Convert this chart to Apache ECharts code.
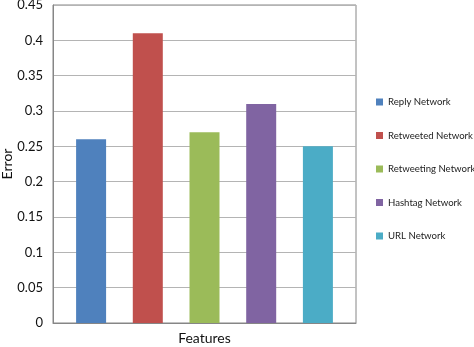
<!DOCTYPE html>
<html>
<head>
<meta charset="utf-8">
<script src="https://cdn.jsdelivr.net/npm/echarts@6/dist/echarts.min.js"></script>
<style>
html,body{margin:0;padding:0;background:#fff;}
#chart{width:474px;height:347px;}
</style>
</head>
<body>
<div id="chart"></div>
<script>
const seriesNames = ['Reply Network', 'Retweeted Network', 'Retweeting Network', 'Hashtag Network', 'URL Network'];
const seriesValues = [0.26, 0.41, 0.27, 0.31, 0.25];
const seriesColors = ['#4F81BD', '#C0504D', '#9BBB59', '#8064A2', '#4BACC6'];
const yTicks = [0, 0.05, 0.1, 0.15, 0.2, 0.25, 0.3, 0.35, 0.4, 0.45];
const categories = [''];

const chart = echarts.init(document.getElementById('chart'), null, {renderer: 'canvas'});
const series = seriesNames.map((name, i) => ({
  name: name,
  type: 'bar',
  data: [seriesValues[i]],
  barWidth: 30,
  barGap: '89%',
  itemStyle: {color: seriesColors[i]}
}));
chart.setOption({
  animation: false,
  backgroundColor: '#fff',
  grid: {left: 53, right: 118, top: 5, bottom: 24, show: true, borderColor: '#868686', borderWidth: 1,
    containLabel: false, outerBoundsMode: 'none'},
  legend: {
    orient: 'vertical',
    left: 371,
    top: 90,
    icon: 'rect',
    itemWidth: 7,
    itemHeight: 7,
    itemGap: 19.5,
    data: seriesNames,
    textStyle: {fontFamily: 'Lato', fontSize: 9.6, color: '#222', lineHeight: 14}
  },
  xAxis: {
    type: 'category',
    data: categories,
    name: 'Features',
    nameLocation: 'middle',
    nameGap: 8,
    nameMoveOverlap: false,
    nameTextStyle: {fontFamily: 'Lato', fontSize: 14, color: '#111', verticalAlign: 'top'},
    axisLine: {show: true, lineStyle: {color: '#868686'}},
    axisTick: {show: false},
    axisLabel: {show: false}
  },
  yAxis: {
    type: 'value',
    min: 0,
    max: yTicks[yTicks.length - 1],
    interval: 0.05,
    name: 'Error',
    nameLocation: 'middle',
    nameGap: 46,
    nameRotate: 90,
    nameMoveOverlap: false,
    nameTextStyle: {fontFamily: 'Lato', fontSize: 14, color: '#111', verticalAlign: 'middle'},
    axisLine: {show: true, lineStyle: {color: '#868686'}},
    axisTick: {show: false},
    axisLabel: {fontFamily: 'Lato', fontSize: 13, color: '#111', margin: 10,
      formatter: v => String(parseFloat(v.toFixed(2)))},
    splitLine: {show: true, lineStyle: {color: '#b4b4b4', width: 1}}
  },
  series: series
});
</script>
</body>
</html>
